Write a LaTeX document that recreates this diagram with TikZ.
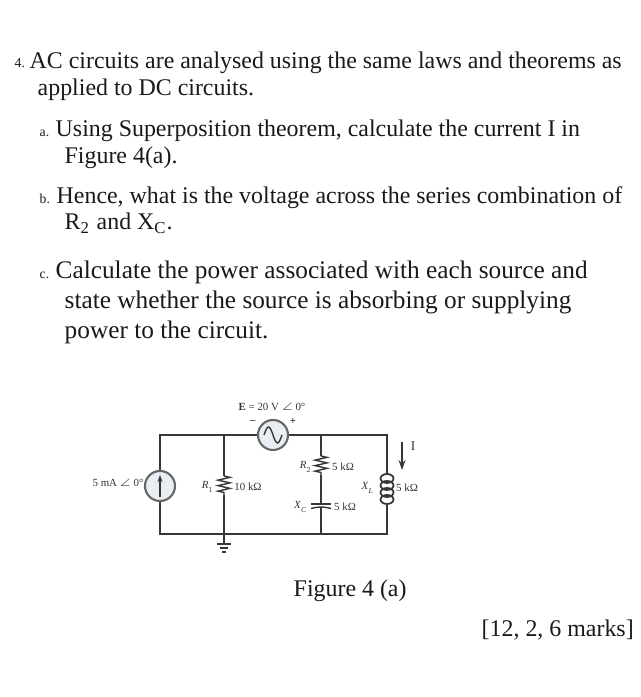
\documentclass[tikz,border=0pt]{standalone}
\usepackage{amssymb}
\usepackage{amsmath}
\usepackage{fontspec}
\setmainfont{Liberation Serif}
\usepackage{tikz}
\usetikzlibrary{decorations.pathmorphing,arrows.meta}
\definecolor{srcfill}{RGB}{232,238,244}
\definecolor{wirecol}{RGB}{55,55,55}
\tikzset{line/.style={anchor=base west, inner sep=0pt, font=\fontsize{6.8}{8}\selectfont, text=black!90},
biggerline/.style={line, font=\fontsize{7.2}{8}\selectfont},
small/.style={anchor=base west, inner sep=0pt, font=\fontsize{3.9}{5}\selectfont, text=black!90},
lab/.style={inner sep=0pt, font=\fontsize{3.1}{4}\selectfont, text=black!80},
wire/.style={draw=wirecol, line width=0.4pt},
src/.style={circle, minimum size=0.3cm, inner sep=0pt, fill=srcfill, draw=black!60, line width=0.6pt},
res/.style={wire, decorate, decoration={zigzag, amplitude=0.06cm, segment length=0.055cm}},
loopturn/.style={wire, line width=0.5pt}}

\begin{document}
\begin{tikzpicture}
        \useasboundingbox (0,0) rectangle (6.4,6.97);
        % question text
        \node[small] (n4) at (0.14,6.29) {4.};
        \node[line] (l1) at (0.29,6.28) {AC circuits are analysed using the same laws and theorems as};
        \node[line] (l2) at (0.37,6.01) {applied to DC circuits.};
        \node[small] (na) at (0.39,5.60) {a.};
        \node[line] (l3) at (0.55,5.60) {Using Superposition theorem, calculate the current I in};
        \node[line] (l4) at (0.64,5.33) {Figure 4(a).};
        \node[small] (nb) at (0.39,4.93) {b.};
        \node[line] (l5) at (0.56,4.93) {Hence, what is the voltage across the series combination of};
        \node[line] (l6) at (0.64,4.67) {R\textsubscript{2} and X\textsubscript{C}\kern-0.2pt.};
        \node[small] (nc) at (0.39,4.18) {c.};
        \node[biggerline] (l7) at (0.55,4.18) {Calculate the power associated with each source and};
        \node[biggerline] (l8) at (0.64,3.88) {state whether the source is absorbing or supplying};
        \node[biggerline] (l9) at (0.64,3.58) {power to the circuit.};
        \node[line] (cap) at (2.93,1.00) {Figure 4 (a)};
        \node[line] (marks) at (4.81,0.60) {[12, 2, 6 marks]};

        % corners and element ends
        \coordinate (tl) at (1.60,2.62);
        \coordinate (tr) at (3.87,2.62);
        \coordinate (bl) at (1.60,1.63);
        \coordinate (br) at (3.87,1.63);
        \coordinate (r1t) at (2.24,2.62);
        \coordinate (r1a) at (2.24,2.21);
        \coordinate (r1b) at (2.24,2.02);
        \coordinate (r1g) at (2.24,1.63);
        \coordinate (gnd) at (2.24,1.53);
        \coordinate (r2t) at (3.21,2.62);
        \coordinate (r2a) at (3.21,2.41);
        \coordinate (r2b) at (3.21,2.22);
        \coordinate (cpa) at (3.21,1.93);
        \coordinate (cpb) at (3.21,1.895);
        \coordinate (cpg) at (3.21,1.63);
        \coordinate (xla) at (3.87,2.22);
        \coordinate (xlb) at (3.87,1.94);
        \coordinate (ia) at (4.02,2.55);
        \coordinate (ib) at (4.02,2.27);

        \node[src] (Isrc) at (1.60,2.11) {};
        \node[src] (Esrc) at (2.73,2.62) {};

        \draw[wire] (Isrc) -- (tl) -- (Esrc) -- (tr) -- (xla);
        \draw[wire] (Isrc) -- (bl) -- (br) -- (xlb);
        \draw[wire] (r1t) -- (r1a);
        \draw[wire] (r1b) -- (gnd);
        \draw[wire] (r2t) -- (r2a);
        \draw[wire] (r2b) -- (cpa);
        \draw[wire] (cpb) -- (cpg);
        \draw[res] (r1a) -- (r1b);
        \draw[res] (r2a) -- (r2b);
        % inductor turns
        \foreach \y in {2.185,2.115,2.045,1.975}
            \draw[loopturn] (3.87,\y) ellipse (0.065 and 0.045);

        % capacitor plates
        \draw[wire] (3.11,1.93) -- (3.31,1.93);
        \draw[wire] (3.11,1.885) .. controls (3.18,1.905) and (3.24,1.905) .. (3.31,1.885);
        % ground
        \draw[wire] (2.17,1.53) -- (2.31,1.53);
        \draw[wire] (2.20,1.49) -- (2.28,1.49);
        \draw[wire] (2.22,1.45) -- (2.26,1.45);
        % source symbols
        \draw[wire, -{Stealth[length=0.07cm,width=0.05cm]}] (1.60,2.00) -- (1.60,2.22);
        \draw[wire] (2.64,2.62) sin (2.685,2.70) cos (2.73,2.62) sin (2.775,2.54) cos (2.82,2.62);
        \draw[wire, line width=0.6pt, -{Stealth[length=0.1cm,width=0.07cm]}] (ia) -- (ib);

        % circuit labels
        \node[lab] (Elab) at (2.72,2.90) {\textbf{E} = 20 V $\angle$ 0°};
        \node[lab] (Eneg) at (2.53,2.75) {\textbf{--}};
        \node[lab] (Epos) at (2.93,2.76) {\textbf{+}};
        \node[lab] (Ilab) at (1.18,2.14) {5 mA $\angle$ 0°};
        \node[lab] (R1lab) at (2.08,2.10) {\textit{R}\textsubscript{1}};
        \node[lab] (R1val) at (2.48,2.10) {10 kΩ};
        \node[lab] (R2lab) at (3.06,2.30) {\textit{R}\textsubscript{2}};
        \node[lab] (R2val) at (3.43,2.30) {5 kΩ};
        \node[lab] (XClab) at (3.01,1.90) {\textit{X}\textsubscript{\textit{C}}};
        \node[lab] (XCval) at (3.45,1.90) {5 kΩ};
        \node[lab] (XLlab) at (3.68,2.09) {\textit{X}\textsubscript{\textit{L}}};
        \node[lab] (XLval) at (4.07,2.09) {5 kΩ};
        \node[lab, font=\fontsize{3.8}{5}\selectfont] (Icur) at (4.13,2.51) {I};
\end{tikzpicture}
\end{document}
